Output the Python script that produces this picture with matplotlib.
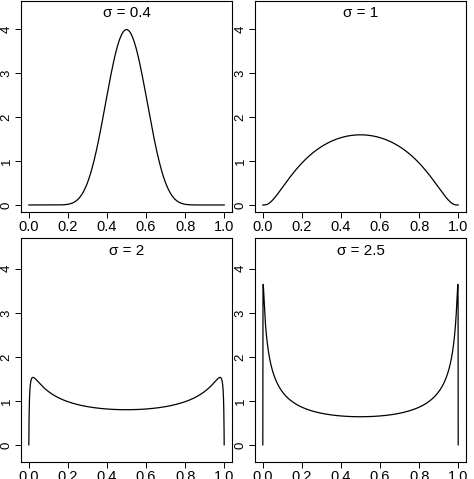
import numpy as np
import matplotlib
matplotlib.use("Agg")
import matplotlib.pyplot as plt

sigmas = [0.4, 1, 2, 2.5]
titles = ["σ = 0.4", "σ = 1", "σ = 2", "σ = 2.5"]
mu = 0.0
x_ticks = [0.0, 0.2, 0.4, 0.6, 0.8, 1.0]
y_ticks = [0, 1, 2, 3, 4]

x = np.linspace(0, 1, 2001)

def dens(s):
    xi = x[1:-1]
    d = 1/(s*np.sqrt(2*np.pi))*np.exp(-(np.log(xi/(1-xi))-mu)**2/(2*s*s))/(xi*(1-xi))
    return np.concatenate([[0], d, [0]])

W, H = 474, 479
fig = plt.figure(figsize=(W/100, H/100), dpi=100)
boxes = [(21, 1, 232, 212), (255, 1, 466, 212), (21, 238, 232, 462), (255, 238, 466, 462)]
ylims = [(-0.16, 4.64), (-0.16, 4.64), (-0.39, 4.7), (-0.39, 4.7)]
plt.rcParams['font.family'] = ['Liberation Sans', 'DejaVu Sans']
for i, s in enumerate(sigmas):
    l, t, r, b = boxes[i]
    ax = fig.add_axes([l/W, 1-b/H, (r-l)/W, (b-t)/H])
    ax.plot(x, dens(s), color='black', lw=0.9)
    ax.set_xlim(-0.04, 1.04)
    ax.set_ylim(*ylims[i])
    ax.set_xticks(x_ticks)
    ax.set_xticklabels([f"{v:.1f}" for v in x_ticks], fontsize=10.5)
    ax.set_yticks(y_ticks)
    ax.set_yticklabels([str(v) for v in y_ticks], fontsize=9.5, rotation=90, va='center')
    ax.tick_params(length=4, width=0.7, pad=2)
    for sp in ax.spines.values():
        sp.set_linewidth(0.8)
    ax.text(0.5, 0.975, titles[i], transform=ax.transAxes, ha='center', va='top', fontsize=11)
fig.savefig("out.png", dpi=100)
